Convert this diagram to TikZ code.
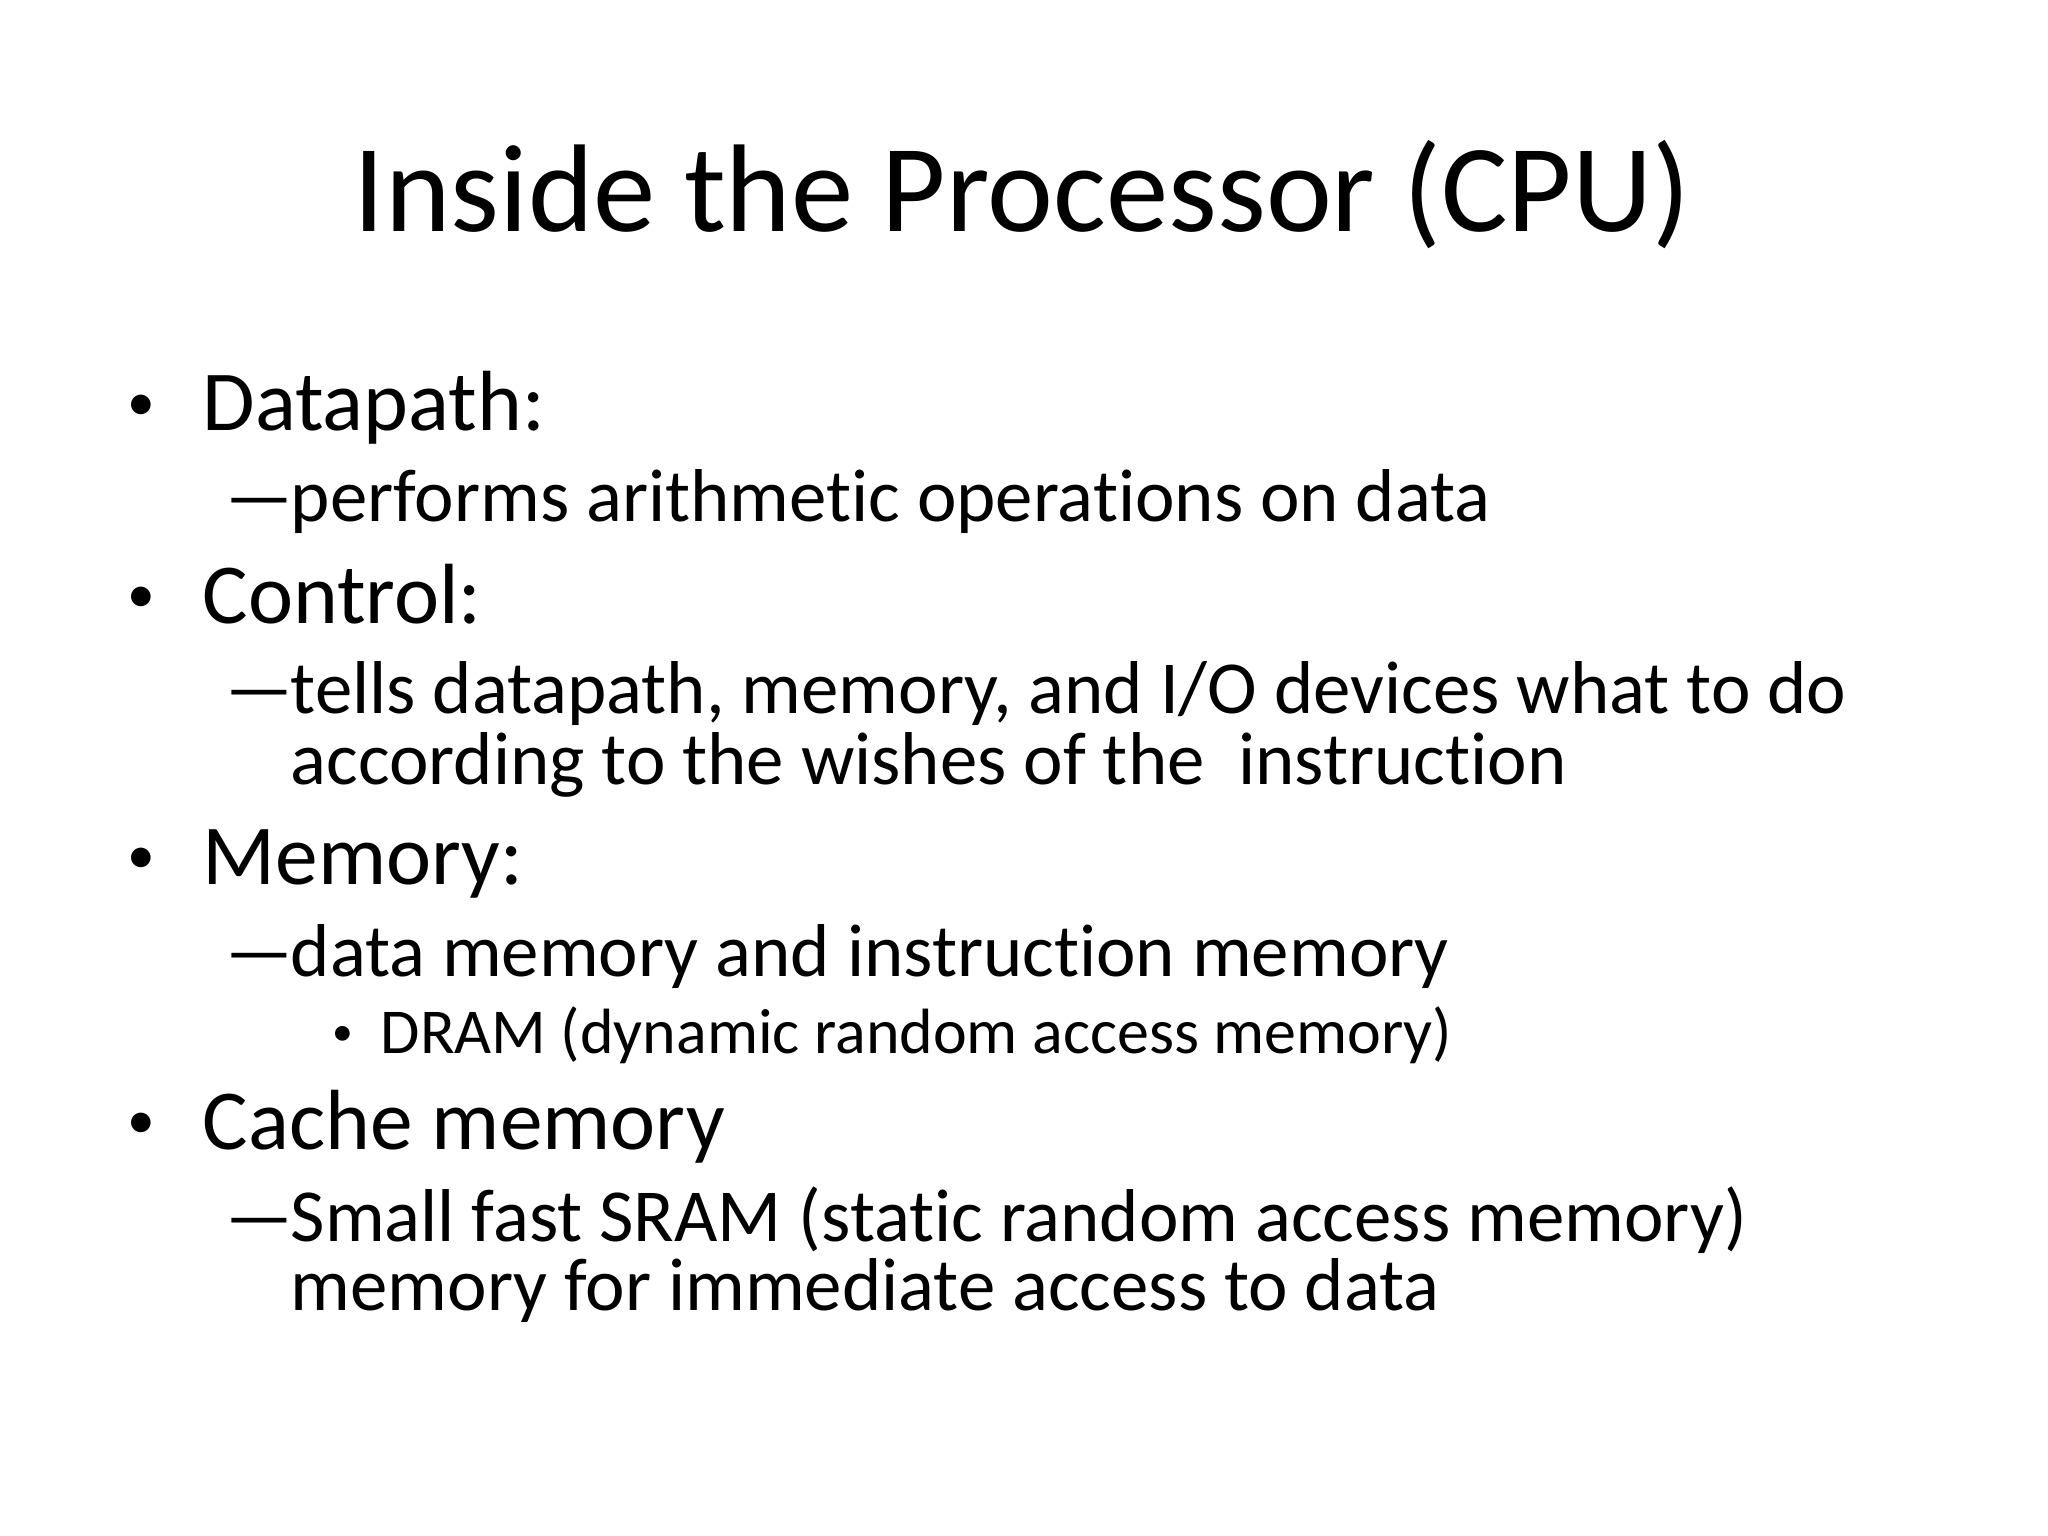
\documentclass[tikz,border=0pt]{standalone}
\usepackage{fontspec}
\setmainfont{Carlito}[Ligatures=NoCommon]
\newcommand{\mybul}{\raisebox{0.12em}{\scalebox{0.65}{•}}}
\begin{document}
\begin{tikzpicture}[x=1cm,y=1cm,
  t/.style={anchor=base west,inner sep=0pt},
  lone/.style={t,font=\fontsize{24.3}{29}\selectfont},
  ltwo/.style={t,font=\fontsize{21.3}{26}\selectfont},
  lthree/.style={t,font=\fontsize{18.2}{22}\selectfont}]
\useasboundingbox[fill=white] (0,0) rectangle (20.48,-15.36);
\node[anchor=base,inner sep=0pt,font=\fontsize{35.5}{42}\selectfont] (title) at (10.22,-2.32) {Inside the Processor (CPU)};
% level 1
\node[lone] (b1) at (1.27,-4.31) {\mybul}; \node[lone] (d1) at (2.02,-4.31) {Datapath:};
\node[lone] (b2) at (1.27,-6.23) {\mybul}; \node[lone] (d2) at (2.02,-6.23) {Control:};
\node[lone] (b3) at (1.27,-8.84) {\mybul}; \node[lone] (d3) at (2.02,-8.84) {Memory:};
\node[lone] (b4) at (1.27,-11.49) {\mybul}; \node[lone] (d4) at (2.02,-11.49) {Cache memory};
% level 2
\node[ltwo] (s1) at (2.25,-5.22) {—}; \node[ltwo] (e1) at (2.90,-5.22) {performs arithmetic operations on data};
\node[ltwo] (s2) at (2.25,-7.14) {—}; \node[ltwo] (e2) at (2.90,-7.14) {tells datapath, memory, and I/O devices what to do};
\node[ltwo] (e2b) at (2.90,-7.84) {according to the wishes of the\ \ instruction};
\node[ltwo] (s3) at (2.25,-9.76) {—}; \node[ltwo] (e3) at (2.90,-9.76) {data memory and instruction memory};
\node[ltwo] (s4) at (2.25,-12.41) {—}; \node[ltwo] (e4) at (2.90,-12.41) {Small fast SRAM (static random access memory)};
\node[ltwo] (e4b) at (2.90,-13.10) {memory for immediate access to data};
% level 3
\node[lthree] (c1) at (3.32,-10.53) {\mybul}; \node[lthree] (f1) at (3.80,-10.53) {DRAM (dynamic random access memory)};
\end{tikzpicture}
\end{document}
